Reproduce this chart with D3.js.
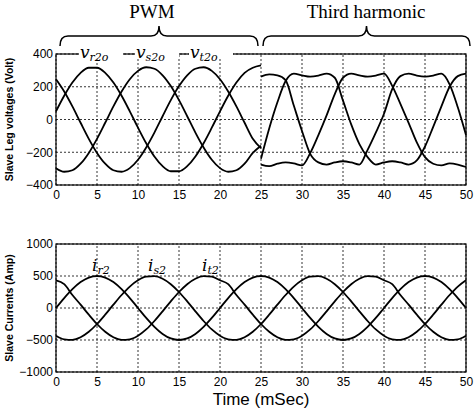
<!DOCTYPE html>
<html>
<head>
<meta charset="utf-8">
<script src="https://cdn.jsdelivr.net/npm/d3@7"></script>
<style>
  body { margin: 0; background: #fff; }
  svg { display: block; }
  .tick text { font-family: "Liberation Sans", Arial, sans-serif; font-size: 12px; }
</style>
</head>
<body>
<script>
// ---- data ----
const T_PWM = d3.range(0, 26);        // 0..25 ms
const T_TH = d3.range(25, 51);        // 25..50 ms
const T_ALL = d3.range(0, 51);

const vr_pwm = [50,145,226,285,316,316,285,226,145,50,-50,-145,-226,-285,-316,-316,-285,-226,-145,-50,50,145,226,285,316,330];
const vs_pwm = [-297,-319,-310,-270,-204,-118,-20,80,171,246,297,319,310,270,204,118,20,-80,-171,-246,-297,-319,-310,-270,-204,-160];
const vt_pwm = [246,171,80,-20,-118,-204,-270,-310,-319,-297,-246,-171,-80,20,118,204,270,310,319,297,246,171,80,-20,-118,-175];

const vr_th = [262,275,270,240,85,-70,-210,-262,-275,-262,-255,-262,-275,-185,-80,35,185,265,280,268,262,268,280,215,75,-95];
const vs_th = [-240,-55,105,235,280,270,262,268,280,255,115,-30,-150,-230,-275,-262,-255,-262,-275,-250,-165,-45,80,200,265,280];
const vt_th = [-275,-285,-270,-262,-268,-280,-205,-95,25,155,255,280,270,262,268,280,205,95,-20,-140,-230,-270,-280,-268,-275,-290];

const ir = [0,155,294,405,476,500,476,405,294,155,0,-155,-294,-405,-476,-500,-476,-405,-294,-155,
            0,155,294,405,476,500,476,405,294,155,0,-155,-294,-405,-476,-500,-476,-405,-294,-155,
            0,155,294,405,476,500,476,405,294,155,0];
const is = [-433,-489,-497,-457,-372,-250,-104,52,203,335,433,489,497,457,372,250,104,-52,-203,-335,
            -433,-489,-497,-457,-372,-250,-104,52,203,335,433,489,497,457,372,250,104,-52,-203,-335,
            -433,-489,-497,-457,-372,-250,-104,52,203,335,433];
const it = [433,372,203,52,-104,-250,-372,-457,-497,-489,-433,-335,-203,-52,104,250,372,457,497,489,
            433,372,203,52,-104,-250,-372,-457,-497,-489,-433,-335,-203,-52,104,250,372,457,497,489,
            433,372,203,52,-104,-250,-372,-457,-497,-489,-433];

const X_TICKS = [0,5,10,15,20,25,30,35,40,45,50];
const V_TICKS = [-400,-200,0,200,400];
const I_TICKS = [-1000,-500,0,500,1000];

// ---- frame ----
const W = 474, H = 412;
const svg = d3.select("body").append("svg").attr("width", W).attr("height", H);

const X = d3.scaleLinear().domain([0, 50]).range([56, 466]);
const YV = d3.scaleLinear().domain([-400, 400]).range([185, 54]);
const YI = d3.scaleLinear().domain([-1000, 1000]).range([372, 244]);

function panel(y, ticks, label) {
  const g = svg.append("g");
  const [y0, y1] = y.range();
  // grid
  g.selectAll(".gx").data(X_TICKS).enter().append("line")
    .attr("x1", d => X(d)).attr("x2", d => X(d)).attr("y1", y0).attr("y2", y1)
    .attr("stroke", "#000").attr("stroke-width", 0.8).attr("stroke-dasharray", "2,2");
  g.selectAll(".gy").data(ticks).enter().append("line")
    .attr("x1", X(0)).attr("x2", X(50)).attr("y1", d => y(d)).attr("y2", d => y(d))
    .attr("stroke", "#000").attr("stroke-width", 0.8).attr("stroke-dasharray", "2,2");
  g.append("g").attr("transform", `translate(0,${y0})`)
    .call(d3.axisBottom(X).tickValues(X_TICKS).tickFormat(d3.format("d")).tickSize(0).tickPadding(5))
    .call(a => a.select(".domain").remove());
  g.append("g").attr("transform", `translate(${X(0)},0)`)
    .call(d3.axisLeft(y).tickValues(ticks).tickFormat(d3.format("d")).tickSize(0).tickPadding(3))
    .call(a => a.select(".domain").remove());
  g.append("rect").attr("x", X(0)).attr("y", y1).attr("width", X(50) - X(0)).attr("height", y0 - y1)
    .attr("fill", "none").attr("stroke", "#000").attr("stroke-width", 1.2);
  svg.append("text").attr("transform", `translate(13,${(y0 + y1) / 2}) rotate(-90)`)
    .attr("text-anchor", "middle").attr("font-family", "Liberation Sans, Arial, sans-serif")
    .attr("font-weight", "bold").attr("font-size", 10.5).text(label);
}

panel(YV, V_TICKS, "Slave Leg voltages (Volt)");
panel(YI, I_TICKS, "Slave Currents (Amp)");

function curve(ts, vals, y) {
  svg.append("path")
    .attr("d", d3.line().x((d, i) => X(ts[i])).y(d => y(d)).curve(d3.curveMonotoneX)(vals))
    .attr("fill", "none").attr("stroke", "#000").attr("stroke-width", 1.8);
}
[vr_pwm, vs_pwm, vt_pwm].forEach(v => curve(T_PWM, v, YV));
[vr_th, vs_th, vt_th].forEach(v => curve(T_TH, v, YV));
[ir, is, it].forEach(v => curve(T_ALL, v, YI));

// x axis title
svg.append("text").attr("x", 261).attr("y", 405).attr("text-anchor", "middle")
  .attr("font-family", "Liberation Sans, Arial, sans-serif").attr("font-size", 17)
  .text("Time (mSec)");

// phase labels
function subLabel(x, y, main, sub) {
  const t = svg.append("text").attr("x", x).attr("y", y)
    .attr("font-family", "DejaVu Serif, Liberation Serif, serif").attr("font-style", "italic");
  t.append("tspan").attr("font-size", 17).text(main);
  t.append("tspan").attr("font-size", 11).attr("dy", 3).text(sub);
}
[[80, "r2o"], [136, "s2o"], [190, "t2o"]].forEach(([x, s]) => {
  svg.append("rect").attr("x", x - 1).attr("y", 50).attr("width", 44).attr("height", 8).attr("fill", "#fff");
  subLabel(x, 58, "v", s);
});
[[92, "r2"], [148, "s2"], [202, "t2"]].forEach(([x, s]) => subLabel(x, 271, "i", s));

// braces and headers
function brace(x0, x1, yTop, yBot) {
  const m = (x0 + x1) / 2, c = (yTop + yBot) / 2;
  const p = `M${x0},${yBot} Q${x0},${c} ${x0 + 8},${c} L${m - 8},${c} Q${m},${c} ${m},${yTop}
             Q${m},${c} ${m + 8},${c} L${x1 - 8},${c} Q${x1},${c} ${x1},${yBot}`;
  svg.append("path").attr("d", p).attr("fill", "none").attr("stroke", "#000").attr("stroke-width", 1.5);
}
brace(60, 258, 26, 46);
brace(263, 470, 26, 46);
svg.append("text").attr("x", 152).attr("y", 18).attr("text-anchor", "middle")
  .attr("font-family", "Liberation Serif, serif").attr("font-size", 19).text("PWM");
svg.append("text").attr("x", 366).attr("y", 18).attr("text-anchor", "middle")
  .attr("font-family", "Liberation Serif, serif").attr("font-size", 19).text("Third harmonic");
</script>
</body>
</html>
